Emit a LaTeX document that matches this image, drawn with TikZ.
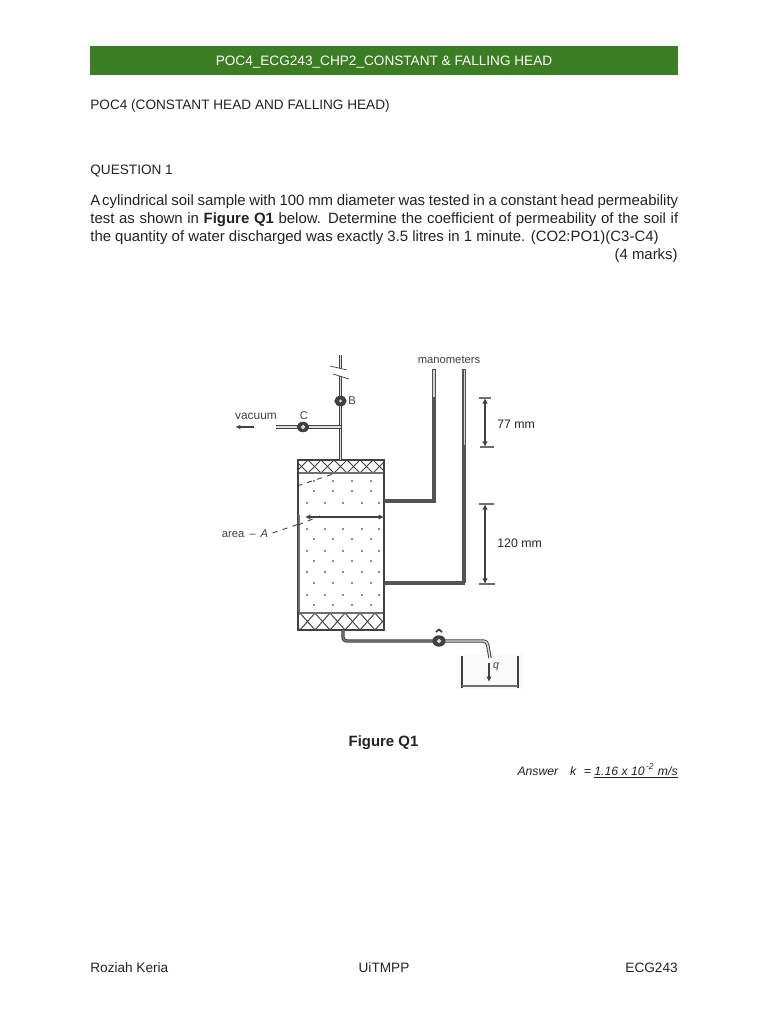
\documentclass[tikz,border=0pt]{standalone}
\usepackage{fontspec}
\usepackage{xcolor}
\usetikzlibrary{arrows.meta}
\setmainfont{Liberation Sans}
\definecolor{barGreen}{HTML}{3B7D23}
\definecolor{pageInk}{HTML}{222222}
\definecolor{scanInk}{HTML}{404040}
\definecolor{scanGray}{HTML}{6E6E6E}
\newcommand{\bodyfont}{\fontsize{7.75pt}{10.3pt}\selectfont}
\newcommand{\questionfont}{\fontsize{8.5pt}{10.25pt}\selectfont}
\newcommand{\scanfont}{\fontsize{6.4pt}{7pt}\selectfont}
\tikzset{
  pagetext/.style={font=\bodyfont,text=pageInk,inner sep=0pt,anchor=base west},
  pipe/.style={draw=scanInk,double=white!88!black,double distance=0.8pt,line width=0.55pt},
  tube/.style={draw=scanInk!90!white,line width=1.8pt},
  vessel/.style={draw=scanInk,line width=1.1pt},
  dimline/.style={draw=scanInk,line width=1.4pt,{Latex[length=3.2pt,width=3.2pt]}-{Latex[length=3.2pt,width=3.2pt]}},
  dimtick/.style={draw=scanGray,line width=0.7pt},
  valve/.style={ellipse,fill=scanInk,inner sep=0pt,minimum width=7pt,minimum height=6pt},
  scanlabel/.style={font=\scanfont,text=scanInk,inner sep=0pt},
  stone/.style={draw=scanInk,line width=0.55pt}
}
\usetikzlibrary{shapes.geometric}
\begin{document}
\begin{tikzpicture}[x=0.02cm,y=-0.02cm]
\useasboundingbox (0,0) rectangle (768,1024);
% page text
\fill [barGreen] (90,46) rectangle (678,75);
\node (title) [font=\bodyfont,text=white,inner sep=0pt] at (384,62) {POC4\_ECG243\_CHP2\_CONSTANT \& FALLING HEAD};
\node (heading) [pagetext] at (90,109.5) {POC4 (CONSTANT HEAD AND FALLING HEAD)};
\node (question) [pagetext] at (90,174) {QUESTION 1};
\node (body) [pagetext,font=\questionfont,anchor=north west,text width=11.76cm,align=justify] at (90,194) {A\hspace{-0.12em} cylindrical soil sample with 100 mm diameter was tested in a constant head permeability\linebreak test as shown in \textbf{Figure Q1} below. Determine the coefficient of permeability of the soil if\linebreak the quantity of water discharged was exactly 3.5 litres in 1 minute. (CO2:PO1)(C3-C4)};
\node (marks) [pagetext,font=\questionfont,anchor=base east] at (678,259) {(4 marks)};
% faint scan patch behind the bucket
\fill [gray!5] (458,654) rectangle (523,689);
% soil grains
\foreach \y in {481,491,539,561,583,605}
\foreach \x in {314,333,352,371}
\filldraw [scanGray] (\x,\y) circle (0.3pt);
\foreach \y in {503,529,551,572,595}
\foreach \x in {307,325,343,362,379}
\filldraw [scanGray] (\x,\y) circle (0.3pt);
% porous stones
\begin{scope}
\clip (298,460) rectangle (384,473);
\foreach \x in {282,295,...,400} {
\draw [stone] (\x,460) -- (\x+13,473);
\draw [stone] (\x,473) -- (\x+13,460);
}
\end{scope}
\begin{scope}
\clip (298,613) rectangle (384,630);
\foreach \x in {270,285,...,400} {
\draw [stone] (\x,613) -- (\x+15,630);
\draw [stone] (\x,630) -- (\x+15,613);
}
\end{scope}
\draw [draw=scanGray,line width=0.6pt] (298,473) -- (384,473);
\draw [draw=scanGray,line width=0.6pt] (298,613) -- (384,613);
% cylinder
\draw [vessel] (298,460) rectangle (384,630);
\draw [scanGray,line width=1.6pt] (299,515) -- (299,612);
\draw [scanInk,line width=1.6pt] (384,460) -- (384,630);
% pipes and valves
\coordinate (pipeTop) at (340.5,355);
\coordinate (pipeBreak) at (340.5,368);
\coordinate (pipeResume) at (340.5,376);
\coordinate (pipeTee) at (340.5,427);
\coordinate (pipeIn) at (340.5,460);
\coordinate (vacuumEnd) at (276,427);
\coordinate (vacuumTip) at (235,427);
\coordinate (vacuumTail) at (254,427);
\draw [pipe] (pipeTop) -- (pipeBreak);
\draw [pipe] (pipeResume) -- (pipeIn);
\draw [pipe] (vacuumEnd) -- (pipeTee);
\node (valveB) [valve] at (340.5,401) {};
\node (valveC) [valve] at (303,427) {};
\filldraw [white!80!black] (valveB) circle (0.7pt);
\filldraw [white!85!black] (valveC) circle (1pt);
\draw [scanInk,line width=0.4pt] (330,366) -- (347,370);
\draw [scanInk,line width=0.4pt] (333,374) -- (349,379);
\draw [scanInk,line width=0.6pt,-{Latex[length=3pt,width=2.4pt]}] (vacuumTail) -- (vacuumTip);
\node (labelB) [scanlabel] at (352,401) {B};
\node (labelC) [scanlabel] at (304,416) {C};
\node (labelVacuum) [scanlabel,font=\fontsize{6.8pt}{7pt}\selectfont] at (256,416) {vacuum};
% area marks
\coordinate (wallUpper) at (297,486);
\coordinate (wallLower) at (298,525);
\coordinate (areaLeft) at (305,517);
\coordinate (areaRight) at (384,517);
\draw [scanInk,line width=0.5pt,dashed] (wallUpper) -- (333,474);
\draw [scanInk,line width=0.5pt,dashed] (wallLower) -- (320,516);
\draw [scanInk,line width=1pt,{Latex[length=3pt,width=3pt]}-{Latex[length=3pt,width=3pt]}] (areaLeft) -- (areaRight);
\node (labelArea) [scanlabel] at (245,534) {area\hspace{0.45em}--\hspace{0.45em}\textit{A}};
\draw [scanInk,line width=0.5pt,dashed] (labelArea.east) ++(4,-1) -- (299,524);
% manometers
\coordinate (leftOut) at (384,501);
\coordinate (leftBend) at (434,501);
\coordinate (leftTop) at (434,369);
\coordinate (rightOut) at (384,583);
\coordinate (rightBend) at (464,583);
\coordinate (rightTop) at (464,369);
\draw [tube] (leftOut) -- (leftBend) -- (leftTop);
\draw [tube,line width=2.6pt] (rightTop) -- (rightBend);
\draw [tube] (rightBend) ++(1,0) -- (rightOut);
\draw [gray!35,line width=0.6pt] (434,370) -- (434,397);
\draw [gray!35,line width=0.6pt] (464.5,370) -- (464.5,445);
\node (labelManometers) [scanlabel,font=\fontsize{6.4pt}{7pt}\selectfont] at (449,360) {manometers};
% dimensions
\coordinate (dimA) at (485,398);
\coordinate (dimB) at (485,447);
\coordinate (dimC) at (485,504);
\coordinate (dimD) at (485,584);
\draw [dimline] (dimA) -- (dimB);
\draw [dimline] (dimC) -- (dimD);
\draw [dimtick] (479,398) -- (491,398);
\draw [dimtick,line width=1pt] (480,447) -- (494,447);
\draw [dimtick] (479,504) -- (494,504);
\draw [dimtick,line width=1pt] (479,584) -- (495,584);
\node (label77) [pagetext,font=\fontsize{7pt}{8pt}\selectfont] at (497,428) {77 mm};
\node (label120) [pagetext,font=\fontsize{7pt}{8pt}\selectfont] at (497,547) {120 mm};
% outlet and bucket
\coordinate (stubTop) at (343,630);
\coordinate (stubBend) at (343,641);
\coordinate (outBend) at (487,641);
\coordinate (outEnd) at (490,658);
\draw [pipe,double=gray,rounded corners=2pt] (stubTop) -- (stubBend) -- (439,641);
\draw [pipe,rounded corners=2pt] (439,641) -- (outBend) -- (outEnd);
\node (valveOut) [valve,minimum width=7.5pt,minimum height=6.5pt] at (439,641) {};
\filldraw [white!85!black] (valveOut) circle (1pt);
\draw [scanInk,line width=1pt] (436,632) -- (439,629.5) -- (442,632);
\draw [scanInk,line width=0.9pt] (462,656) -- (462,688);
\draw [scanInk,line width=0.9pt] (518,656) -- (518,688);
\draw [scanGray,line width=0.7pt] (462,686) -- (518,686);
\coordinate (flowTop) at (489,663);
\coordinate (flowTip) at (489,682);
\draw [scanInk,line width=0.8pt,-{Latex[length=3pt,width=3pt]}] (flowTop) -- (flowTip);
\node (labelQ) [scanlabel,font=\fontsize{6pt}{6pt}\itshape\selectfont] at (496,667) {q};
% caption and footer
\node (caption) [pagetext,anchor=base,font=\questionfont\bfseries] at (383.5,746) {Figure Q1};
\node (answer) [pagetext,anchor=base east,font=\fontsize{6.95pt}{8pt}\itshape\selectfont] at (678,775) {Answer\hspace{0.7em} k\hspace{0.35em} = \underline{1.16 x 10\textsuperscript{\,-2} m/s}};
\node (author) [pagetext] at (90,972) {Roziah Keria};
\node (campus) [pagetext,anchor=base] at (384,972) {UiTMPP};
\node (course) [pagetext,anchor=base east] at (678,972) {ECG243};
\end{tikzpicture}
\end{document}
